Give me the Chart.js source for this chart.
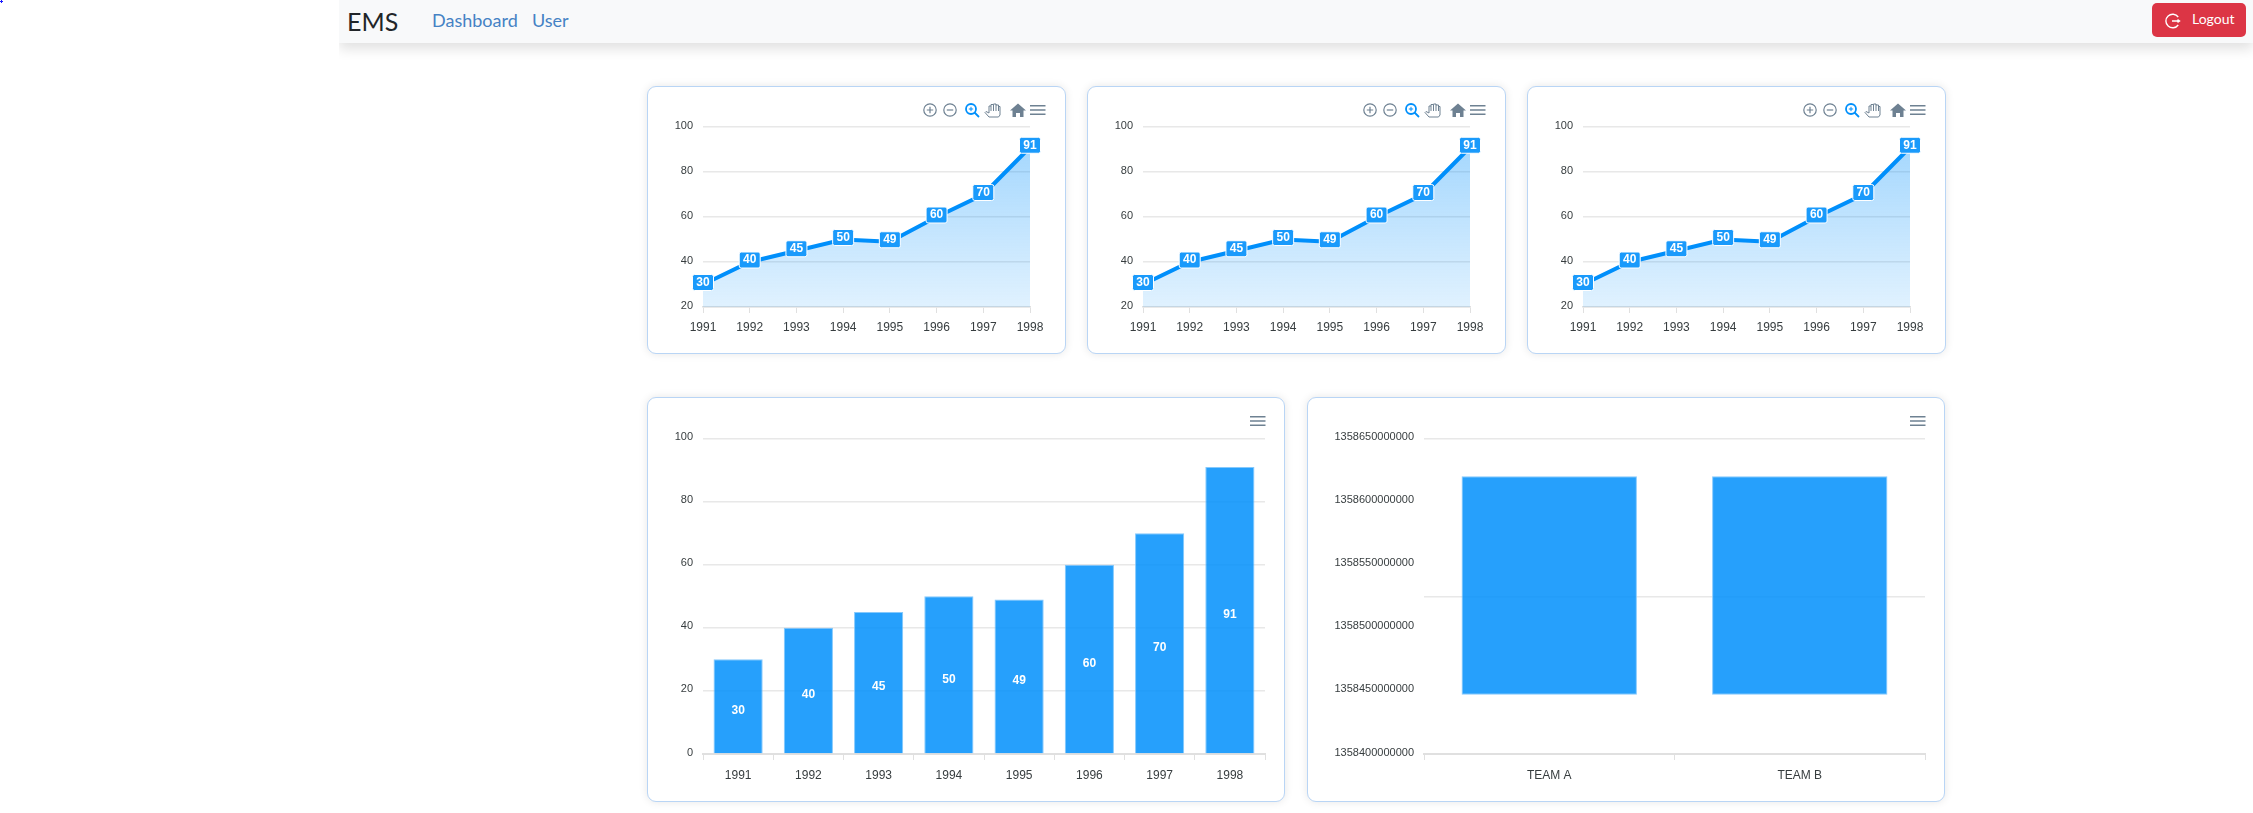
<!DOCTYPE html>
<html>
<head>
<meta charset="utf-8">
<title>EMS</title>
<script src="https://cdn.jsdelivr.net/npm/chart.js@4"></script>
<style>
    html, body { margin: 0; padding: 0; background: #fff; overflow: hidden; }
    body { width: 2253px; height: 813px; position: relative; font-family: Lato, sans-serif; }
    .speck { position: absolute; left: 0; top: 0; width: 3px; height: 3px; }
    .speck:before { content: ''; position: absolute; left: 0; top: 1px; width: 3px; height: 1px; background: #1a1aff; }
    .speck:after { content: ''; position: absolute; left: 1px; top: 0; width: 1px; height: 3px; background: #1a1aff; }
    .navbar { position: absolute; left: 339px; top: 0; width: 1914px; height: 43px; background: #f8f9fa; box-shadow: 0 6px 12px rgba(0,0,0,0.12); clip-path: inset(0 0 -30px 0); }
    .brand { position: absolute; left: 8px; top: 6px; font-size: 25px; line-height: 30px; color: #212529; }
    .nav-link { position: absolute; top: 7px; font-size: 18px; line-height: 26px; color: #4582c4; }
    .logout { position: absolute; left: 1813px; top: 3px; width: 94px; height: 34px; background: #dc3545; border-radius: 5px; color: #fff; font-size: 14px; line-height: 34px; }
    .logout span { position: absolute; left: 40px; top: -1px; }
    .logout svg { position: absolute; left: 13px; top: 10px; }
    .card { position: absolute; box-sizing: border-box; background: #fff; border: 1px solid #b9d5f5; border-radius: 9px; box-shadow: 0 0 9px rgba(0,0,0,0.10); }
    .card canvas { position: absolute; left: -1px; top: -1px; }
    .tools { position: absolute; }
    .tools svg { position: absolute; left: 0; top: 0; }
</style>
</head>
<body>
<div class="speck"></div>
<div class="navbar">
    <div class="brand">EMS</div>
    <div class="nav-link" style="left: 93px">Dashboard</div>
    <div class="nav-link" style="left: 193px">User</div>
    <div class="logout">
        <svg width="16" height="16" viewBox="0 0 16 16" fill="none" stroke="#fff" stroke-width="1.4">
            <path d="M13.2 4 A6.8 6.8 0 1 0 13.2 12"/>
            <path d="M7 8 H14.5 M12.5 6.6 L14.5 8 L12.5 9.4"/>
        </svg>
        <span>Logout</span>
    </div>
</div>
<div class="card" style="left: 647px; top: 86px; width: 419px; height: 268px"><canvas id="lineChart1"></canvas></div>
<div class="card" style="left: 1087px; top: 86px; width: 419px; height: 268px"><canvas id="lineChart2"></canvas></div>
<div class="card" style="left: 1527px; top: 86px; width: 419px; height: 268px"><canvas id="lineChart3"></canvas></div>
<div class="card" style="left: 647px; top: 397px; width: 638px; height: 405px"><canvas id="barChart"></canvas></div>
<div class="card" style="left: 1307px; top: 397px; width: 638px; height: 405px"><canvas id="rangeChart"></canvas></div>

<script>
// Data
const years = ['1991', '1992', '1993', '1994', '1995', '1996', '1997', '1998'];
const yearValues = [30, 40, 45, 50, 49, 60, 70, 91];
const teams = ['TEAM A', 'TEAM B'];
const teamLow = [1358447000000, 1358447000000];
const teamHigh = [1358620000000, 1358620000000];
const teamTicks = [
    1358400000000, 1358425000000, 1358450000000, 1358475000000, 1358500000000, 1358525000000,
    1358550000000, 1358575000000, 1358600000000, 1358625000000, 1358650000000
];

const BLUE = '#008FFB';
const GRID = '#e8e8e8';
const AXIS = '#e0e0e0';
const TICK_TEXT = '#373d3f';

// draws the value labels, Chart.js has no built-in for this
const valueLabels = {
    id: 'valueLabels',
    afterDatasetsDraw(chart, args, opts) {
        if (!opts.mode) return;
        const ctx = chart.ctx;
        const points = chart.getDatasetMeta(0).data;
        const values = chart.data.datasets[0].data;
        ctx.save();
        ctx.textAlign = 'center';
        ctx.textBaseline = 'middle';
        ctx.font = 'bold 12px "Liberation Sans", Arial, sans-serif';
        points.forEach((p, i) => {
            if (opts.mode === 'box') {
                const y = p.y - 2;
                ctx.beginPath();
                ctx.roundRect(p.x - 10.5, y - 8, 21, 16, 2);
                ctx.fillStyle = '#1a9afb';
                ctx.strokeStyle = '#fff';
                ctx.lineWidth = 1;
                ctx.fill();
                ctx.stroke();
                ctx.fillStyle = '#fff';
                ctx.fillText(values[i], p.x, y);
            } else {
                ctx.fillStyle = '#fff';
                ctx.fillText(values[i], p.x, (p.y + p.base) / 2 + 4.5);
            }
        });
        ctx.restore();
    }
};

function fixAxisSize(size, key) {
    return (scale) => {
        scale[key] = size;
        scale.paddingLeft = 0;
        scale.paddingRight = 0;
        scale.paddingTop = 0;
        scale.paddingBottom = 0;
    };
}

function baseOptions(box, xFont, labelMode) {
    return {
        responsive: false,
        animation: false,
        layout: { padding: { left: box.left, right: box.right, top: box.top, bottom: box.bottom } },
        plugins: { legend: { display: false }, tooltip: { enabled: false }, valueLabels: { mode: labelMode } },
        scales: {
            x: {
                afterFit: fixAxisSize(box.xHeight, 'height'),
                border: { color: AXIS, width: box.axisWidth },
                grid: { drawOnChartArea: false, color: AXIS, tickColor: AXIS, tickLength: 6 },
                ticks: { color: TICK_TEXT, font: { family: '"Liberation Sans"', size: xFont }, padding: box.xPad, maxRotation: 0 }
            },
            y: {
                afterFit: fixAxisSize(box.yWidth, 'width'),
                border: { display: false },
                grid: { color: GRID, drawTicks: false, lineWidth: 1.5 },
                ticks: { color: TICK_TEXT, font: { family: '"Liberation Sans"', size: 11 }, padding: 10, labelOffset: -1.5 }
            }
        }
    };
}

function sizeCanvas(id, w, h) {
    const c = document.getElementById(id);
    c.width = w;
    c.height = h;
    c.style.width = w + 'px';
    c.style.height = h + 'px';
    return c;
}

function initLineChart(id) {
    const canvas = sizeCanvas(id, 419, 268);
    const options = baseOptions({ left: 0, right: 36, top: 41, bottom: 0, xHeight: 47, yWidth: 56, axisWidth: 1.5, xPad: 7 }, 12, 'box');
    options.scales.y.min = 20;
    options.scales.y.max = 100;
    options.scales.y.ticks.stepSize = 20;
    return new Chart(canvas, {
        type: 'line',
        data: {
            labels: years,
            datasets: [{
                data: yearValues,
                borderColor: BLUE,
                borderWidth: 4,
                pointRadius: 0,
                tension: 0,
                clip: false,
                fill: 'start',
                backgroundColor: (context) => {
                    const area = context.chart.chartArea;
                    if (!area) return 'rgba(0,143,251,0.3)';
                    const g = context.chart.ctx.createLinearGradient(0, area.top, 0, area.bottom);
                    g.addColorStop(0, 'rgba(0,143,251,0.38)');
                    g.addColorStop(1, 'rgba(0,143,251,0.12)');
                    return g;
                }
            }]
        },
        options: options,
        plugins: [valueLabels]
    });
}

function initBarChart() {
    const canvas = sizeCanvas('barChart', 638, 405);
    const options = baseOptions({ left: 0, right: 20, top: 41.5, bottom: 0, xHeight: 48, yWidth: 56, axisWidth: 2, xPad: 8 }, 12, 'center');
    options.scales.y.min = 0;
    options.scales.y.max = 100;
    options.scales.y.ticks.stepSize = 20;
    return new Chart(canvas, {
        type: 'bar',
        data: {
            labels: years,
            datasets: [{
                data: yearValues,
                backgroundColor: 'rgba(0,143,251,0.85)',
                borderColor: 'rgba(120,195,252,0.9)',
                borderWidth: 1,
                categoryPercentage: 0.7,
                barPercentage: 1
            }]
        },
        options: options,
        plugins: [valueLabels]
    });
}

function initRangeChart() {
    const canvas = sizeCanvas('rangeChart', 638, 405);
    const options = baseOptions({ left: 0, right: 20, top: 41.5, bottom: 0, xHeight: 48, yWidth: 117, axisWidth: 2, xPad: 8 }, 12, null);
    options.scales.y.min = teamTicks[0];
    options.scales.y.max = teamTicks[teamTicks.length - 1];
    options.scales.y.afterBuildTicks = (scale) => {
        scale.ticks = teamTicks.map((value) => ({ value }));
    };
    options.scales.y.ticks.autoSkip = false;
    // labels on every second tick, but the grid only has top, middle and bottom
    options.scales.y.ticks.callback = (v, i) => (i % 2 === 0 ? String(v) : '');
    options.scales.y.grid.color = (ctx) => ([0, 5, 10].includes(ctx.index) ? GRID : 'transparent');
    return new Chart(canvas, {
        type: 'bar',
        data: {
            labels: teams,
            datasets: [{
                data: teams.map((t, i) => [teamLow[i], teamHigh[i]]),
                backgroundColor: 'rgba(0,143,251,0.85)',
                borderColor: 'rgba(120,195,252,0.9)',
                borderWidth: 1,
                borderSkipped: false,
                categoryPercentage: 0.7,
                barPercentage: 1
            }]
        },
        options: options,
        plugins: [valueLabels]
    });
}

// Toolbar icons
const MENU_ICON = '<path d="M0 0.7H15.5 M0 5H15.5 M0 9.3H15.5" stroke="#6e8192" stroke-width="1.5" fill="none"/>';
const FULL_TOOLS = `
    <g fill="none" stroke="#6e8192" stroke-width="1.2">
        <circle cx="8" cy="7" r="6.2"/><path d="M4.8 7H11.2 M8 3.8V10.2"/>
        <circle cx="28" cy="7" r="6.2"/><path d="M24.8 7H31.2"/>
    </g>
    <g fill="none" stroke="#008FFB" stroke-width="1.8">
        <circle cx="49" cy="6" r="5"/><path d="M52.5 9.5L57 14"/><path d="M46.8 6H51.2 M49 3.8V8.2" stroke-width="1"/>
    </g>
    <g transform="translate(-3,0)">
        <path d="M70 14 L66 9.5 L67 8.5 L70 10 V3 H72 V1.5 H74.5 V1 H77 V2 H79.5 V3.5 H81 V12 L79.5 14 Z M72 3 V8 M74.5 1.5 V8 M77 1.5 V8 M79.5 3 V8" fill="#fff" stroke="#6e8192" stroke-width="1"/>
    </g>
    <path d="M96 0.5 L104 7.5 H101.5 V14 H98 V10 H94 V14 H90.5 V7.5 H88 Z" fill="#6e8192"/>
    <g transform="translate(108,2)">${MENU_ICON}</g>`;

function addTools(cardId, html, left, top, w) {
    const card = document.getElementById(cardId).parentNode;
    const div = document.createElement('div');
    div.className = 'tools';
    div.style.left = left + 'px';
    div.style.top = top + 'px';
    div.innerHTML = `<svg width="${w}" height="16" viewBox="0 0 ${w} 16">${html}</svg>`;
    card.appendChild(div);
}

document.addEventListener('DOMContentLoaded', () => {
    ['lineChart1', 'lineChart2', 'lineChart3'].forEach((id) => {
        initLineChart(id);
        addTools(id, FULL_TOOLS, 274, 16, 126);
    });
    initBarChart();
    initRangeChart();
    ['barChart', 'rangeChart'].forEach((id) => {
        addTools(id, `<g transform="translate(0,2)">${MENU_ICON}</g>`, 602, 16, 16);
    });
});
</script>
</body>
</html>
